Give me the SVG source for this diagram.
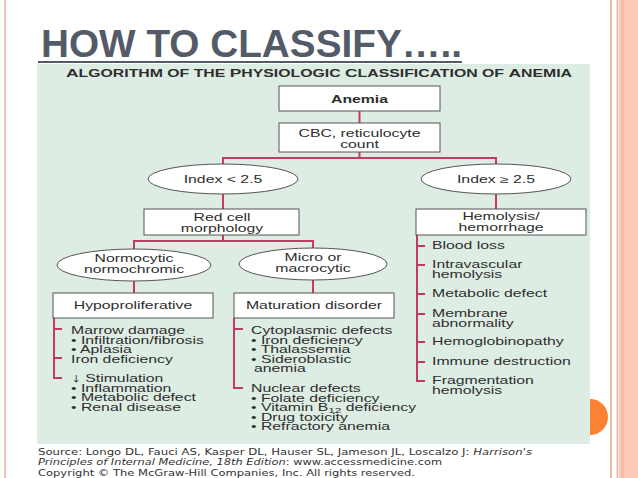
<svg xmlns="http://www.w3.org/2000/svg" width="638" height="478" viewBox="0 0 638 478">
<style>
.box{fill:#ffffff;stroke:#555555;stroke-width:1}
.con{fill:none;stroke:#c33b5f;stroke-width:2}
.t{font-family:"Liberation Sans",Arial,sans-serif;font-size:10px;fill:#2e2e2e}
.c{text-anchor:middle}
.b{font-weight:bold}
.src{font-family:"DejaVu Sans",Verdana,sans-serif;font-size:8.5px;fill:#333333}
</style>
<rect x="0" y="0" width="638" height="478" fill="#ffffff"/>
<!-- borders -->
<rect x="4" y="0" width="2" height="478" fill="#f3c6b9"/>
<rect x="610" y="0" width="2" height="478" fill="#eebcab"/>
<rect x="616.5" y="0" width="1.5" height="478" fill="#f0b8a5"/>
<rect x="618.5" y="0" width="19.5" height="478" fill="#fdc9b8"/>
<rect x="621.5" y="0" width="2" height="478" fill="#f4b59d"/>
<!-- title -->
<text x="41" y="57" font-family="'Liberation Sans',Arial,sans-serif" font-size="39" font-weight="bold" fill="#535b68" textLength="421" lengthAdjust="spacingAndGlyphs">HOW TO CLASSIFY…..</text>
<rect x="38" y="61" width="424" height="2" fill="#535b68"/>
<!-- panel -->
<rect x="37" y="64" width="553" height="380" fill="#deede4"/>
<circle cx="590" cy="417" r="18" fill="#fb8232"/>
<rect x="572" y="395" width="18" height="45" fill="#deede4"/>
<text x="66" y="77" class="t b" font-size="8.5" textLength="506" lengthAdjust="spacingAndGlyphs" fill="#222"><tspan font-size="11">A</tspan>LGORITHM OF THE <tspan font-size="11">P</tspan>HYSIOLOGIC <tspan font-size="11">C</tspan>LASSIFICATION OF <tspan font-size="11">A</tspan>NEMIA</text>
<!-- connectors -->
<g id="connectors">
<path class="con" d="M359.5 111V123 M359.5 152V158 M223 158H496 M223 157V164 M496 157V164"/>
<path class="con" d="M223 194V209 M496 194V209"/>
<path class="con" d="M223 235V241 M134 241H313 M134 240V249 M313 240V248"/>
<path class="con" d="M134 281V293 M313 280V293"/>
<path class="con" d="M54 318V378H62 M54 329H62 M54 358H62"/>
<path class="con" d="M234 318V388H243 M234 329H243"/>
<path class="con" d="M417 235V381H425 M417 246H425 M417 265H425 M417 294H425 M417 314H425 M417 342H425 M417 362H425"/>
</g>
<!-- nodes -->
<g id="anemia">
<rect class="box" x="279" y="86" width="161" height="25"/>
<text class="t c b" transform="translate(359.5,103) scale(1.58,1)">Anemia</text>
</g>
<g id="cbc">
<rect class="box" x="279" y="123" width="161" height="29"/>
<text class="t c" transform="translate(359.5,136.5) scale(1.58,1)">CBC, reticulocyte</text>
<text class="t c" transform="translate(359.5,147.5) scale(1.58,1)">count</text>
</g>
<g id="index-low">
<ellipse class="box" cx="223" cy="179" rx="75" ry="15"/>
<text class="t c" transform="translate(223,183) scale(1.58,1)">Index &lt; 2.5</text>
</g>
<g id="index-high">
<ellipse class="box" cx="496" cy="179" rx="75" ry="15"/>
<text class="t c" transform="translate(496,183) scale(1.58,1)">Index ≥ 2.5</text>
</g>
<g id="redcell">
<rect class="box" x="144" y="209" width="155" height="26"/>
<text class="t c" transform="translate(222,220.5) scale(1.58,1)">Red cell</text>
<text class="t c" transform="translate(222,231.5) scale(1.58,1)">morphology</text>
</g>
<g id="hemolysis">
<rect class="box" x="416" y="209" width="170" height="26"/>
<text class="t c" transform="translate(501,220) scale(1.58,1)">Hemolysis/</text>
<text class="t c" transform="translate(501,231) scale(1.58,1)">hemorrhage</text>
</g>
<g id="normocytic">
<ellipse class="box" cx="134" cy="265" rx="77" ry="16"/>
<text class="t c" transform="translate(134,262) scale(1.58,1)">Normocytic</text>
<text class="t c" transform="translate(134,272.5) scale(1.58,1)">normochromic</text>
</g>
<g id="micro">
<ellipse class="box" cx="313" cy="264" rx="74" ry="16"/>
<text class="t c" transform="translate(313,261) scale(1.58,1)">Micro or</text>
<text class="t c" transform="translate(313,271.5) scale(1.58,1)">macrocytic</text>
</g>
<g id="hypo">
<rect class="box" x="53" y="293" width="160" height="25"/>
<text class="t c" transform="translate(133,308.5) scale(1.58,1)">Hypoproliferative</text>
</g>
<g id="maturation">
<rect class="box" x="234" y="293" width="160" height="25"/>
<text class="t c" transform="translate(314,308.5) scale(1.58,1)">Maturation disorder</text>
</g>
<g id="hypo-list">
<text class="t" transform="translate(71,334) scale(1.58,1)">Marrow damage</text>
<text class="t" transform="translate(71,343.5) scale(1.58,1)">• Infiltration/fibrosis</text>
<text class="t" transform="translate(71,353) scale(1.58,1)">• Aplasia</text>
<text class="t" transform="translate(71,362.5) scale(1.58,1)">Iron deficiency</text>
<text class="t" transform="translate(71,382) scale(1.58,1)"><tspan font-weight="bold" font-size="12.5">↓</tspan> Stimulation</text>
<text class="t" transform="translate(71,391.5) scale(1.58,1)">• Inflammation</text>
<text class="t" transform="translate(71,401) scale(1.58,1)">• Metabolic defect</text>
<text class="t" transform="translate(71,410.5) scale(1.58,1)">• Renal disease</text>
</g>
<g id="maturation-list">
<text class="t" transform="translate(251,334) scale(1.58,1)">Cytoplasmic defects</text>
<text class="t" transform="translate(251,343.5) scale(1.58,1)">• Iron deficiency</text>
<text class="t" transform="translate(251,353) scale(1.58,1)">• Thalassemia</text>
<text class="t" transform="translate(251,362.5) scale(1.58,1)">• Sideroblastic</text>
<text class="t" transform="translate(254,372) scale(1.58,1)">anemia</text>
<text class="t" transform="translate(251,392) scale(1.58,1)">Nuclear defects</text>
<text class="t" transform="translate(251,401.5) scale(1.58,1)">• Folate deficiency</text>
<text class="t" transform="translate(251,411) scale(1.58,1)">• Vitamin B<tspan font-size="7.5" dy="2">12</tspan><tspan dy="-2"> deficiency</tspan></text>
<text class="t" transform="translate(251,420.5) scale(1.58,1)">• Drug toxicity</text>
<text class="t" transform="translate(251,430) scale(1.58,1)">• Refractory anemia</text>
</g>
<g id="hemolysis-list">
<text class="t" transform="translate(432,249) scale(1.58,1)">Blood loss</text>
<text class="t" transform="translate(432,268) scale(1.58,1)">Intravascular</text>
<text class="t" transform="translate(432,277.5) scale(1.58,1)">hemolysis</text>
<text class="t" transform="translate(432,297) scale(1.58,1)">Metabolic defect</text>
<text class="t" transform="translate(432,317) scale(1.58,1)">Membrane</text>
<text class="t" transform="translate(432,326.5) scale(1.58,1)">abnormality</text>
<text class="t" transform="translate(432,345) scale(1.58,1)">Hemoglobinopathy</text>
<text class="t" transform="translate(432,365) scale(1.58,1)">Immune destruction</text>
<text class="t" transform="translate(432,384) scale(1.58,1)">Fragmentation</text>
<text class="t" transform="translate(432,393.5) scale(1.58,1)">hemolysis</text>
</g>
<!-- source -->
<text class="src" x="38" y="455" textLength="494" lengthAdjust="spacingAndGlyphs">Source: Longo DL, Fauci AS, Kasper DL, Hauser SL, Jameson JL, Loscalzo J: <tspan font-style="italic">Harrison's</tspan></text>
<text class="src" x="38" y="465" textLength="404" lengthAdjust="spacingAndGlyphs"><tspan font-style="italic">Principles of Internal Medicine, 18th Edition</tspan>: www.accessmedicine.com</text>
<text class="src" x="38" y="476" textLength="377" lengthAdjust="spacingAndGlyphs">Copyright © The McGraw-Hill Companies, Inc. All rights reserved.</text>
</svg>
